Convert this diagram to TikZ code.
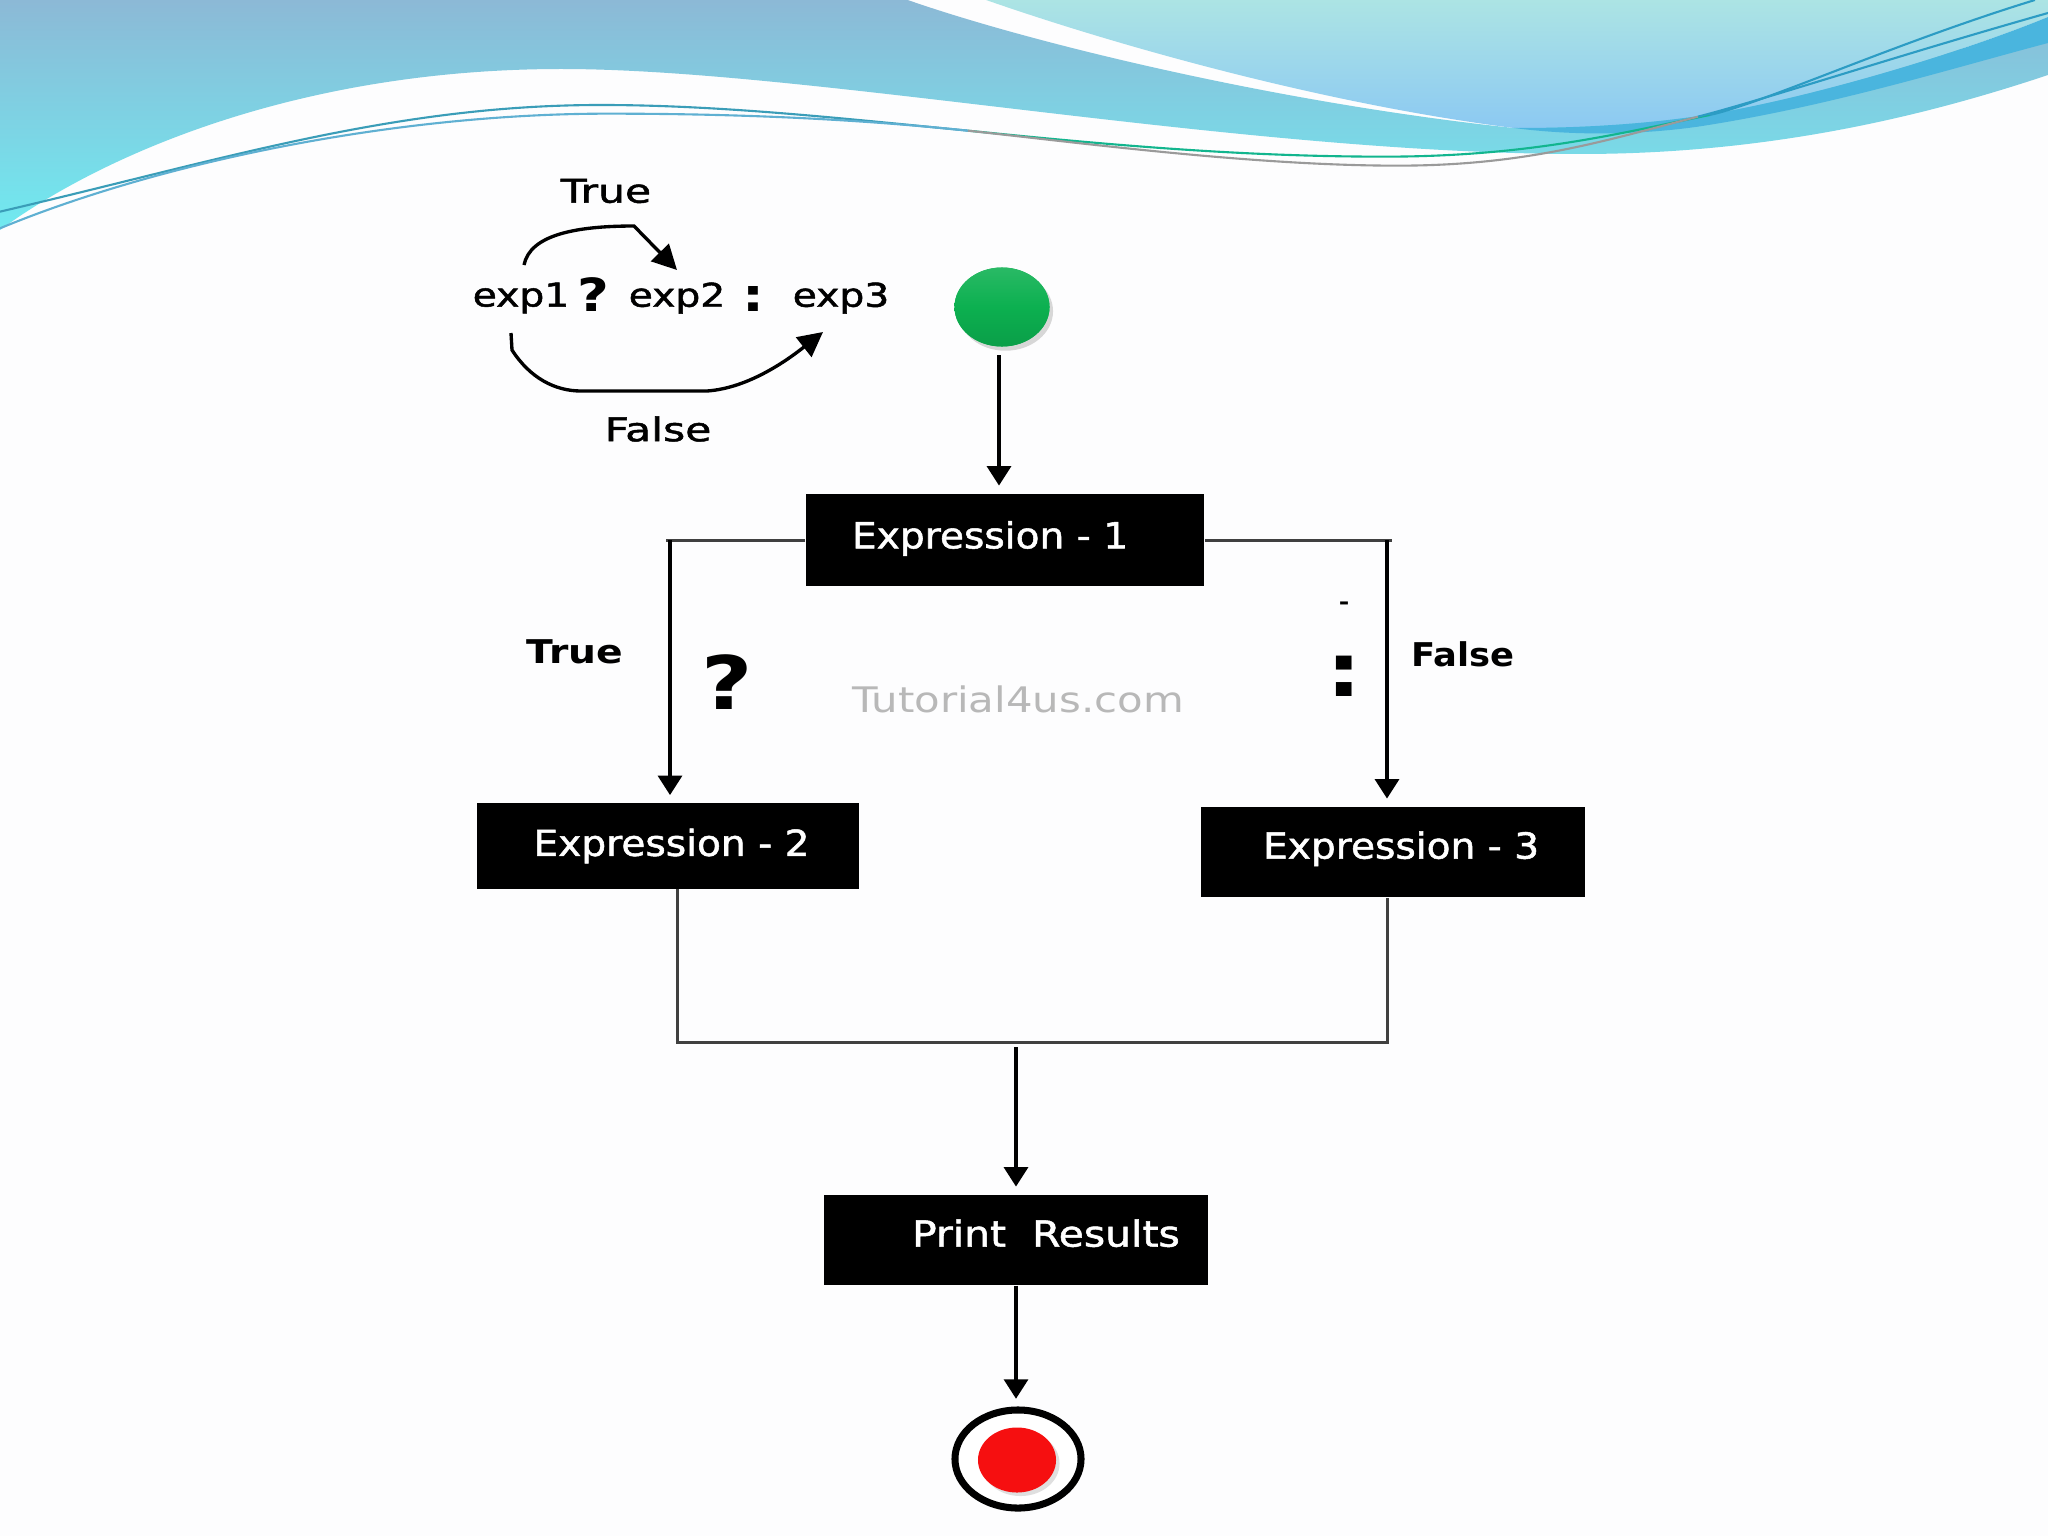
\documentclass[tikz,border=0pt]{standalone}
\usepackage{fontspec}
\setmainfont{DejaVu Sans}
\newfontfamily\semifont[FakeBold=1.4]{DejaVu Sans}
\usetikzlibrary{arrows.meta,shapes.geometric,shadows}
\definecolor{mypage}{HTML}{FDFDFE}
\definecolor{mywavetop}{HTML}{8CB9D6}
\definecolor{mywavelow}{HTML}{70EAF0}
\definecolor{mypaletop}{HTML}{ACE4E4}
\definecolor{mypalelow}{HTML}{8CC9F2}
\definecolor{myband}{HTML}{4AB5DE}
\definecolor{mygreen}{HTML}{0CB050}
\definecolor{myred}{HTML}{F60F10}
\definecolor{mylinetop}{HTML}{3A9DB8}
\definecolor{mylinelow}{HTML}{5FB0D2}
\definecolor{mylinemid}{HTML}{12B58E}
\definecolor{mylinegrey}{HTML}{9A9A9A}
\definecolor{mylineend}{HTML}{2C9CC4}
\newcommand{\wide}[1]{\scalebox{1.2}[1]{#1}}
\newcommand{\wider}[1]{\scalebox{1.3}[1]{#1}}
\newcommand{\boxwide}[1]{\scalebox{1.09}[1]{#1}}
\tikzset{
  exprbox/.style={fill=black, text=white, inner sep=0pt, font=\fontsize{10.2}{10.2}\semifont},
  plaintext/.style={inner sep=0pt, font=\fontsize{9.3}{9.3}\semifont},
  boldtext/.style={inner sep=0pt, font=\fontsize{9.3}{9.3}\selectfont\bfseries},
  flow/.style={line width=0.9pt, -{Triangle[length=5.5pt,width=6.8pt]}, shorten >=2.2pt},
  joinline/.style={line width=0.85pt, draw=black!75},
  handcurve/.style={line width=0.95pt, -{Triangle[length=7pt,width=7pt]}},
  wave line/.style={line width=0.6pt}
}
\begin{document}
\begin{tikzpicture}[x=0.01cm, y=-0.01cm]
\useasboundingbox (0,0) rectangle (2048,1536);
\fill[mypage] (0,0) rectangle (2048,1536);
% waves at the top
\begin{scope}[xscale=1.3061, yscale=0.3333]
\clip (0,0) rectangle (1568,780);
\shade[top color=mywavetop, bottom color=mywavelow]
  (0,0) -- (695,0) .. controls (790,130) and (980,310) .. (1159,384)
  -- (1568,100) -- (1568,225) .. controls (1480,340) and (1360,462) .. (1210,462)
  .. controls (950,462) and (620,207) .. (430,207)
  .. controls (230,207) and (80,460) .. (0,690) -- cycle;
\shade[top color=mypaletop, bottom color=mypalelow]
  (755,0) .. controls (850,130) and (1010,310) .. (1159,384)
  .. controls (1230,385) and (1290,360) .. (1330,328)
  .. controls (1400,275) and (1500,160) .. (1568,51) -- (1568,0) -- cycle;
\fill[myband]
  (1159,384) .. controls (1230,385) and (1290,360) .. (1330,328)
  .. controls (1400,275) and (1500,160) .. (1568,51) -- (1568,129)
  .. controls (1490,210) and (1400,320) .. (1300,380)
  .. controls (1260,402) and (1210,410) .. (1159,384) -- cycle;
\draw[wave line, color=mylinetop] (0,635) .. controls (170,480) and (300,315) .. (460,315) .. controls (550,315) and (642,354) .. (741,392);
\draw[wave line, color=mylinemid] (741,392) .. controls (840,431) and (945,470) .. (1060,470) .. controls (1170,470) and (1240,400) .. (1309,345);
\draw[wave line, color=mylineend] (1309,345) .. controls (1350,310) and (1450,130) .. (1558,0);
\draw[wave line, color=mylinelow] (0,685) .. controls (120,490) and (300,341) .. (465,341) .. controls (560,341) and (650,355) .. (741,392);
\draw[wave line, color=mylinegrey] (741,392) .. controls (830,430) and (960,497) .. (1070,497) .. controls (1170,497) and (1230,420) .. (1300,350);
\draw[wave line, color=mylineend] (1300,350) .. controls (1350,300) and (1450,170) .. (1568,39);
\end{scope}
% small picture of the operator
\node[plaintext] (truetop) at (606,191) {\wider{True}};
\node[plaintext] (exp1) at (521,298) {\wide{exp1}};
\node[boldtext, font=\fontsize{13}{13}\selectfont\bfseries] (askone) at (593,295) {\wide{?}};
\node[plaintext] (exp2) at (677,298) {\wide{exp2}};
\node[boldtext, font=\fontsize{13}{13}\selectfont\bfseries] (colonone) at (753,299) {\wide{:}};
\node[plaintext] (exp3) at (841,298) {\wide{exp3}};
\node[plaintext] (falsetop) at (658,429) {\wider{False}};
\coordinate (truefrom) at (524,265);
\coordinate (truepeak) at (634,226);
\coordinate (trueend) at (677,270);
\coordinate (falsefrom) at (511,333);
\coordinate (falsemid) at (581,391);
\coordinate (falsepeak) at (707,391);
\coordinate (falseend) at (823,332);
\draw[handcurve] (truefrom) .. controls (530,235) and (575,226) .. (truepeak) -- (trueend);
\draw[handcurve] (falsefrom) -- (512,350) .. controls (530,378) and (555,391) .. (falsemid) -- (falsepeak) .. controls (750,388) and (790,358) .. (falseend);
% flow chart
\node[ellipse, fill=mygreen, minimum width=95*0.2845pt, minimum height=79*0.2845pt, inner sep=0pt, top color=mygreen!88!white, bottom color=mygreen!90!black, middle color=mygreen, drop shadow={opacity=0.3, shadow xshift=1pt, shadow yshift=-1.2pt}] (startdot) at (1002,307) {};
\node[exprbox, minimum width=398*0.2845pt, minimum height=92*0.2845pt] (expr1) at (1005,540) {\raisebox{3pt}{\boxwide{Expression - 1}}\hspace{8.5pt}\mbox{}};
\node[exprbox, minimum width=381*0.2845pt, minimum height=85*0.2845pt] (expr2) at (668,846) {\hspace{2pt}\raisebox{1pt}{\boxwide{Expression - 2}}};
\node[exprbox, minimum width=384*0.2845pt, minimum height=90*0.2845pt] (expr3) at (1393,852) {\hspace{4.6pt}\raisebox{4pt}{\boxwide{Expression - 3}}};
\node[exprbox, minimum width=384*0.2845pt, minimum height=90*0.2845pt] (print) at (1016,1240) {\hspace{17pt}\raisebox{4pt}{\scalebox{1.14}[1]{Print\ \ Results}}};
\node[ellipse, draw=black, line width=2pt, fill=white, minimum width=126*0.2845pt, minimum height=98*0.2845pt, inner sep=0pt] (endring) at (1018,1459) {};
\node[ellipse, fill=myred, minimum width=78*0.2845pt, minimum height=65*0.2845pt, inner sep=0pt, drop shadow={opacity=0.25, shadow xshift=1pt, shadow yshift=-1pt}] (enddot) at (1017,1460) {};
\coordinate (lefttop) at (666,540);
\coordinate (leftdrop) at (670,540);
\coordinate (righttop) at (1392,540);
\coordinate (leftfoot) at (677,1042);
\coordinate (rightfoot) at (1387,1042);
\coordinate (flowin) at (1016,1047);
\coordinate (startfoot) at (999,355);
\draw[flow] (startfoot) -- (startfoot |- expr1.north);
\draw[joinline] (expr1.west) -- (lefttop);
\draw[joinline] (expr1.east) -- (righttop);
\draw[flow] (leftdrop) -- (leftdrop |- expr2.north);
\draw[flow] (rightfoot |- righttop) -- (rightfoot |- expr3.north);
\draw[joinline] (leftfoot |- expr2.south) -- (leftfoot) -- (rightfoot) -- (rightfoot |- expr3.south);
\draw[flow] (flowin) -- (print.north);
\draw[flow] (print.south) -- (print.south |- endring.north);
% labels of the two branches
\node[boldtext] (truelabel) at (575,652) {\wide{True}};
\node[boldtext, font=\fontsize{21}{21}\selectfont\bfseries] (asktwo) at (727,682) {\wide{?}};
\node[boldtext, font=\fontsize{6}{6}\selectfont\bfseries] (dashmark) at (1344,606) {\wide{-}};
\node[boldtext, font=\fontsize{21}{21}\selectfont\bfseries] (colontwo) at (1344,676) {\wide{:}};
\node[boldtext] (falselabel) at (1463,654) {\scalebox{1.08}[1]{False}};
\node[plaintext, text=black!28, font=\fontsize{10}{10}\selectfont] (site) at (1018,699) {\scalebox{1.19}[1]{Tutorial4us.com}};
\end{tikzpicture}
\end{document}
